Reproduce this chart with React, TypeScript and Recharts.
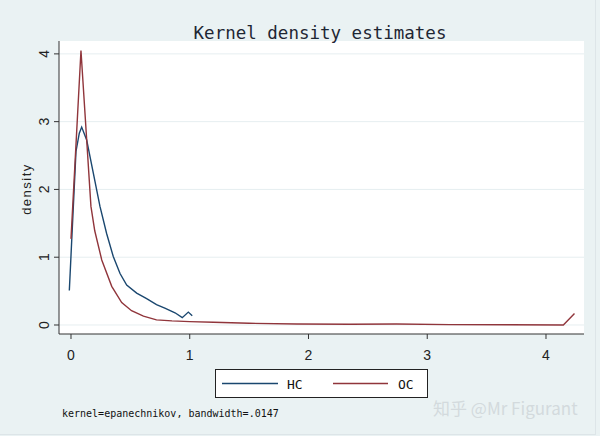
import React from 'react';
import { LineChart, Line, XAxis, YAxis, CartesianGrid } from 'recharts';

// values
const hcX = [-0.014, 0.042, 0.07, 0.09, 0.132, 0.188, 0.244, 0.3, 0.356, 0.413, 0.469, 0.553, 0.637, 0.72, 0.79, 0.876, 0.937, 0.988, 1.021];
const hcY = [0.51, 2.56, 2.83, 2.92, 2.73, 2.24, 1.75, 1.35, 1.01, 0.76, 0.59, 0.47, 0.39, 0.3, 0.25, 0.18, 0.108, 0.19, 0.137];

const ocX = [0.0, 0.084, 0.168, 0.2, 0.259, 0.343, 0.427, 0.51, 0.61, 0.72, 0.85, 1.0, 1.2, 1.5, 1.9, 2.35, 2.74, 3.19, 3.7, 4.146, 4.24];
const ocY = [1.27, 4.05, 1.75, 1.39, 0.96, 0.57, 0.33, 0.21, 0.13, 0.075, 0.06, 0.05, 0.04, 0.025, 0.015, 0.01, 0.015, 0.005, 0.003, 0.0, 0.17];

const xTicks = [0, 1, 2, 3, 4];
const yTicks = [0, 1, 2, 3, 4];

const seriesNames = ['HC', 'OC'];
const seriesColors = ['#1a476f', '#90353b'];

const hcData = hcX.map((x, i) => ({ x, y: hcY[i] }));
const ocData = ocX.map((x, i) => ({ x, y: ocY[i] }));

const sans = '"Liberation Sans", Arial, sans-serif';
const mono = '"DejaVu Sans Mono", "Liberation Mono", monospace';

const YTick = (props: any) => {
  const { x, y, payload } = props;
  const bx = x - 5;
  return (
    <text x={bx} y={y} transform={`rotate(-90 ${bx} ${y})`} textAnchor="middle" fontSize={14} fontFamily={sans} fill="#222">
      {payload.value}
    </text>
  );
};

const DensityLabel = () => (
  <text x={31} y={189} transform="rotate(-90 31 189)" textAnchor="middle" fontSize={13} letterSpacing={1.5} fontFamily={sans} fill="#222">
    density
  </text>
);

export default function App() {
  return (
    <div style={{ position: 'absolute', left: 0, top: 0, width: 600, height: 436, background: '#eaf2f3' }}>
      <LineChart width={600} height={436} margin={{ top: 41, right: 16, left: 0, bottom: 72 }}>
        <CartesianGrid vertical={false} fill="#ffffff" stroke="#e6eef0" horizontalValues={yTicks} />
        <XAxis
          type="number"
          dataKey="x"
          domain={[-0.101, 4.32]}
          ticks={xTicks}
          allowDataOverflow
          height={30}
          tickSize={5}
          tickMargin={11}
          stroke="#333"
          tick={{ fontSize: 14, fontFamily: sans, fill: '#222' }}
        />
        <YAxis
          type="number"
          dataKey="y"
          domain={[-0.133, 4.19]}
          ticks={yTicks}
          allowDataOverflow
          width={59}
          tickSize={5}
          tickMargin={0}
          stroke="#333"
          tick={<YTick />}
          label={<DensityLabel />}
        />
        <Line data={hcData} dataKey="y" name={seriesNames[0]} stroke={seriesColors[0]} strokeWidth={1.4} dot={false} activeDot={false} type="linear" isAnimationActive={false} />
        <Line data={ocData} dataKey="y" name={seriesNames[1]} stroke={seriesColors[1]} strokeWidth={1.4} dot={false} activeDot={false} type="linear" isAnimationActive={false} />
      </LineChart>
      <svg width={600} height={436} style={{ position: 'absolute', left: 0, top: 0, pointerEvents: 'none' }}>
        <text x={320} y={39} textAnchor="middle" fontSize={17.5} fontFamily={mono} fill="#1e2633">
          Kernel density estimates
        </text>
        <rect x={215.5} y={369.5} width={212} height={28} fill="#ffffff" stroke="#222" strokeWidth={1} />
        <line x1={222} x2={278} y1={383.5} y2={383.5} stroke={seriesColors[0]} strokeWidth={1.4} />
        <text x={287} y={389} fontSize={13} fontFamily={mono} fill="#111">{seriesNames[0]}</text>
        <line x1={333} x2={388} y1={383.5} y2={383.5} stroke={seriesColors[1]} strokeWidth={1.4} />
        <text x={398} y={389} fontSize={13} fontFamily={mono} fill="#111">{seriesNames[1]}</text>
        <text x={62} y={417} fontSize={10} fontFamily={mono} fill="#111">
          kernel=epanechnikov, bandwidth=.0147
        </text>
        <text x={433} y={415} fontSize={17} fontFamily='"Noto Sans CJK SC", "Noto Sans", sans-serif' fill="#d3dadd">
          知乎 @Mr Figurant
        </text>
        <line x1={595.5} x2={595.5} y1={0} y2={434} stroke="#dde5e8" />
        <line x1={0} x2={596} y1={434.5} y2={434.5} stroke="#dde5e8" />
      </svg>
    </div>
  );
}
